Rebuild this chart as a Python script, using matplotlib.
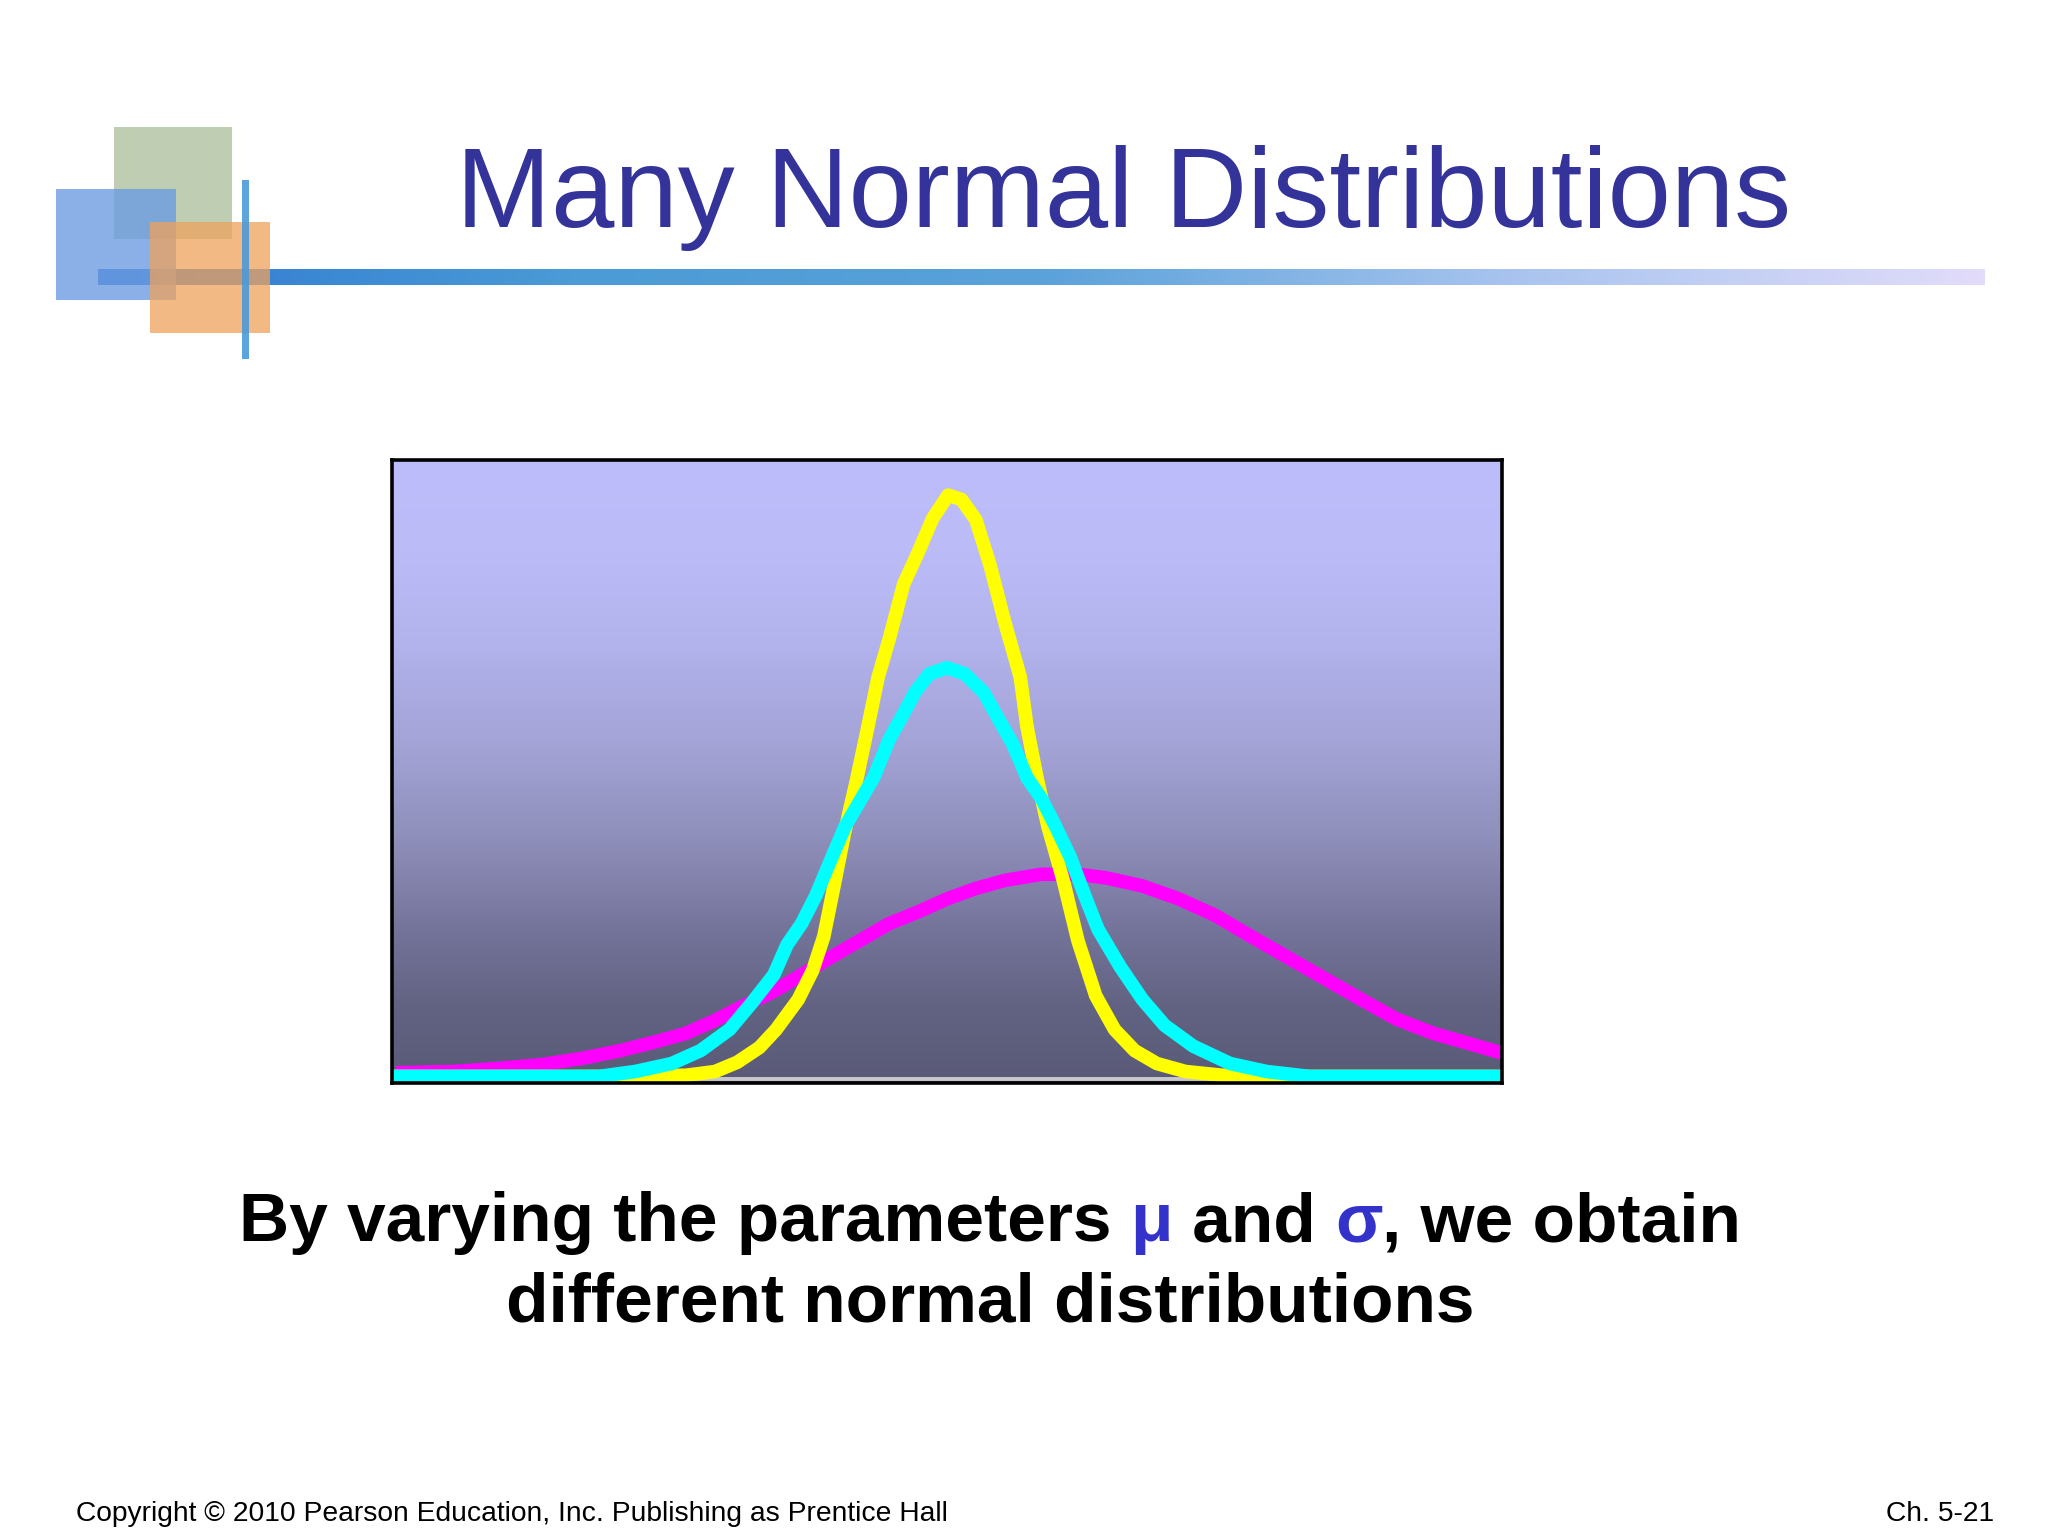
import numpy as np
import matplotlib
matplotlib.use('Agg')
import matplotlib.pyplot as plt
from matplotlib.colors import LinearSegmentedColormap
from matplotlib.patches import Rectangle

# ── curve values (x: box spans -5..5, y: box top = 1) ──
yellow_x = [-5.0, -3.0, -2.35, -2.09, -1.89, -1.69, -1.54, -1.34, -1.21, -1.11, -1.01,
            -0.92, -0.81, -0.72, -0.62, -0.52, -0.39, -0.26, -0.13, 0.01, 0.13, 0.26,
            0.39, 0.52, 0.66, 0.72, 0.81, 0.91, 1.05, 1.18, 1.34, 1.51, 1.69, 1.89,
            2.15, 2.48, 3.0, 5.0]
yellow_y = [0.0, 0.0, 0.002, 0.008, 0.023, 0.047, 0.076, 0.125, 0.172, 0.227, 0.316,
            0.398, 0.485, 0.561, 0.648, 0.710, 0.799, 0.850, 0.905, 0.943, 0.936, 0.903,
            0.828, 0.737, 0.648, 0.568, 0.485, 0.405, 0.316, 0.220, 0.131, 0.076, 0.042,
            0.021, 0.008, 0.002, 0.0, 0.0]

cyan_x = [-5.0, -3.14, -2.81, -2.48, -2.22, -1.96, -1.76, -1.56, -1.44, -1.31, -1.18,
          -1.05, -0.92, -0.79, -0.66, -0.52, -0.39, -0.29, -0.16, 0.0, 0.16, 0.33,
          0.46, 0.59, 0.72, 0.85, 0.98, 1.11, 1.24, 1.36, 1.56, 1.76, 1.96, 2.22,
          2.55, 2.88, 3.27, 5.0]
cyan_y = [0.0, 0.0, 0.008, 0.021, 0.042, 0.076, 0.119, 0.165, 0.214, 0.248, 0.294,
          0.350, 0.405, 0.445, 0.485, 0.547, 0.589, 0.623, 0.653, 0.663, 0.653, 0.623,
          0.581, 0.540, 0.485, 0.451, 0.405, 0.356, 0.294, 0.239, 0.178, 0.125, 0.083,
          0.049, 0.021, 0.008, 0.0, 0.0]

magenta_x = [-4.97, -4.45, -4.05, -3.66, -3.27, -2.94, -2.61, -2.35, -2.09, -1.84,
             -1.56, -1.31, -1.05, -0.79, -0.52, -0.26, 0.0, 0.26, 0.52, 0.85, 1.18,
             1.44, 1.76, 2.09, 2.42, 2.74, 3.07, 3.40, 3.73, 4.05, 4.38, 4.71, 5.0]
magenta_y = [0.006, 0.008, 0.013, 0.019, 0.030, 0.042, 0.057, 0.070, 0.091, 0.114,
             0.138, 0.165, 0.193, 0.220, 0.248, 0.267, 0.288, 0.305, 0.318, 0.328, 0.328,
             0.322, 0.309, 0.288, 0.261, 0.227, 0.193, 0.159, 0.125, 0.093, 0.070, 0.053,
             0.038]

TITLE = 'Many Normal Distributions'
FOOTER = 'Copyright \u00a9 2010 Pearson Education, Inc. Publishing as Prentice Hall'
PAGE = 'Ch. 5-21'

TITLE_BLUE, GREEK_BLUE = '#333399', '#3333cc'
W, H = 2048, 1536

plt.rcParams['font.family'] = ['Liberation Sans', 'DejaVu Sans']
fig = plt.figure(figsize=(10.24, 7.68), dpi=200)
fig.patch.set_facecolor('white')

# ── slide decoration, drawn in pixel space ───────────────────────────
deco = fig.add_axes([0, 0, 1, 1])
deco.set_xlim(0, W); deco.set_ylim(H, 0)
deco.axis('off')

line_cmap = LinearSegmentedColormap.from_list(
    'rule', ['#2f78d2', '#4a9bd6', '#5aa2da', '#a8c4ee', '#e2dcfa'])
deco.imshow(np.linspace(0, 1, 256)[None, :], cmap=line_cmap, aspect='auto',
            extent=(98, 1985, 285, 269), zorder=1)
deco.add_patch(Rectangle((114, 127), 118, 112, color='#b4c6a6', alpha=0.85, lw=0, zorder=2))
deco.add_patch(Rectangle((56, 189), 120, 111, color='#6d9de2', alpha=0.8, lw=0, zorder=3))
deco.add_patch(Rectangle((150, 222), 120, 111, color='#efa25c', alpha=0.75, lw=0, zorder=4))
deco.add_patch(Rectangle((242, 180), 7, 179, color='#4a9ad8', alpha=0.9, lw=0, zorder=5))

deco.text(1124, 227, TITLE, ha='center', va='baseline', fontsize=41,
          color=TITLE_BLUE)

# subtitle with coloured Greek letters
fs = 25
parts = [('By varying the parameters ', 'black'), ('\u03bc', GREEK_BLUE),
         (' and ', 'black'), ('\u03c3', GREEK_BLUE), (', we obtain', 'black')]
renderer = fig.canvas.get_renderer()
widths = []
for s, c in parts:
    t = deco.text(0, 0, s, fontsize=fs, fontweight='bold')
    widths.append(t.get_window_extent(renderer).width)
    t.remove()
x0 = 990 - sum(widths) / 2
for (s, c), w in zip(parts, widths):
    deco.text(x0, 1241, s, fontsize=fs, fontweight='bold', color=c, va='baseline', ha='left')
    x0 += w
deco.text(990, 1322, 'different normal distributions', fontsize=fs, fontweight='bold',
          color='black', va='baseline', ha='center')

deco.text(76, 1521, FOOTER, fontsize=10.2, color='black', va='baseline', ha='left')
deco.text(1994, 1521, PAGE, fontsize=10.2, color='black', va='baseline', ha='right')

# ── the chart ─────────────────────────────────────────────────────────
ax = fig.add_axes([392 / W, 1 - 1083 / H, 1110 / W, 623 / H])
bg_cmap = LinearSegmentedColormap.from_list('bg', [
    (0.0, '#bdbdfb'), (0.15, '#bbbbf8'), (0.3, '#b2b2ec'), (0.45, '#a4a4d8'),
    (0.6, '#9090bc'), (0.75, '#75759c'), (0.88, '#626282'), (1.0, '#5a5a78')])
ax.imshow(np.linspace(0, 1, 256)[:, None], cmap=bg_cmap, aspect='auto',
          extent=(-5, 5, -0.0106, 1.0), zorder=0)
ax.set_xlim(-5, 5)
ax.set_ylim(-0.0106, 1.0)
ax.axhline(-0.004, color='#c8c8cc', lw=1.4, zorder=1)

for xs, ys, col, z in ((magenta_x, magenta_y, '#ff00ff', 2),
                       (yellow_x, yellow_y, '#ffff00', 3),
                       (cyan_x, cyan_y, '#00ffff', 4)):
    ax.plot(xs, ys, color=col, lw=4.9, solid_joinstyle='round',
            solid_capstyle='butt', zorder=z)

ax.set_xticks([]); ax.set_yticks([])
for s in ax.spines.values():
    s.set_color('black')
    s.set_linewidth(1.3)
    s.set_zorder(6)

fig.savefig('out.png', dpi=200, facecolor='white')
